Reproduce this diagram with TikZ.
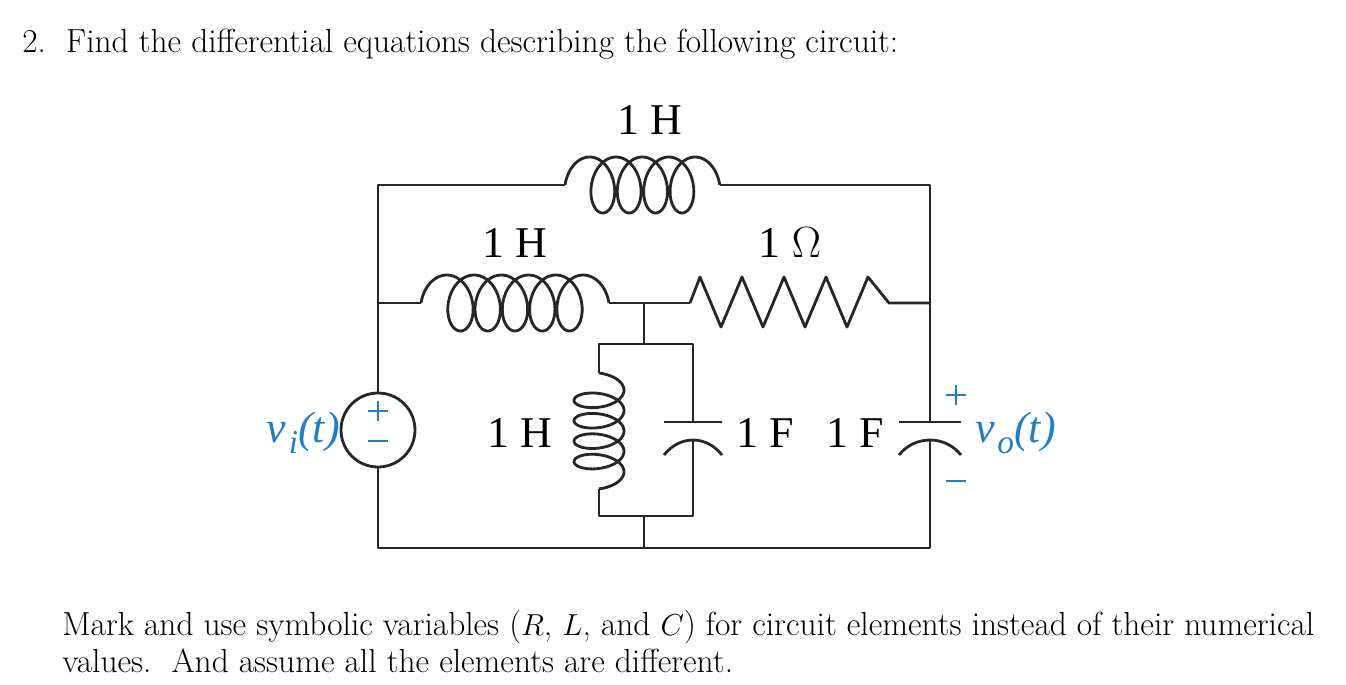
\documentclass[tikz,border=0pt]{standalone}
\usepackage{fontspec}
\newfontfamily\cfont{Liberation Serif}
\usepackage{amsmath}
\begin{document}
\definecolor{vblue}{RGB}{35,125,195}
\begin{tikzpicture}[x=0.02cm,y=-0.02cm,
  wire/.style={line width=1.6pt,black!85,line join=round},
  lab/.style={font=\cfont\fontsize{25}{28}\selectfont,inner sep=0pt},
  blab/.style={font=\cfont\itshape\fontsize{25}{28}\selectfont,text=vblue,inner sep=0pt},
  txt/.style={font=\fontsize{19}{23}\selectfont,inner sep=0pt,anchor=base west}]
\useasboundingbox (0,0) rectangle (1346,684);
% texts
\node[txt] (q) at (22,52) {2.\ \ Find the differential equations describing the following circuit:};
\node[txt] (m1) at (62,635) {Mark and use symbolic variables ($R$, $L$, and $C$) for circuit elements instead of their numerical};
\node[txt] (m2) at (62,672) {values.\ \ And assume all the elements are different.};
% coordinates
\coordinate (TL) at (378,185); \coordinate (TR) at (930,185);
\coordinate (ML) at (378,303); \coordinate (MR) at (930,303);
\coordinate (BL) at (378,548); \coordinate (BR) at (930,548);
\coordinate (J) at (644,303); \coordinate (JB) at (644,548);
% outer wires
\draw[wire] (378,393) -- (ML) -- (TL) -- (565,185);
\draw[wire] (720,185) -- (TR) -- (MR) -- (930,422);
\draw[wire] (930,440) -- (BR) -- (BL) -- (378,467);
% top inductor
\draw[wire] plot[domain=-90:1530,samples=240,variable=\t] ({565+4.2*(\t/57.2958+1.5708)+18*(1+sin(\t))},{185-28*cos(\t)});
% middle inductor
\draw[wire] (ML) -- (421,303);
\draw[wire] plot[domain=-90:1890,samples=280,variable=\t] ({421+4.34*(\t/57.2958+1.5708)+19*(1+sin(\t))},{303-28*cos(\t)});
\draw[wire] (609,303) -- (J) -- (690,303);
% resistor
\draw[wire] (690,303) -- (700,277) -- (721,327) -- (742,277) -- (763,327) -- (784,277) -- (805,327) -- (826,277) -- (847,327) -- (868,277) -- (889,303) -- (MR);
% box
\draw[wire] (J) -- (644,344);
\draw[wire] (599,373) -- (599,344) -- (693,344) -- (693,422);
\draw[wire] (693,440) -- (693,516) -- (599,516) -- (599,489);
\draw[wire] (644,516) -- (JB);
% vertical inductor
\draw[wire] plot[domain=-90:1530,samples=240,variable=\t] ({599+25*cos(\t)},{373+3.25*(\t/57.2958+1.5708)+12*(1+sin(\t))});
% capacitor 1
\draw[wire] (664,422) -- (722,422);
\draw[wire] (664,455) .. controls (680,435) and (706,435) .. (722,455);
% capacitor 2
\draw[wire] (899,422) -- (961,422);
\draw[wire] (899,455) .. controls (915,435) and (945,435) .. (961,455);
% source
\draw[wire] (378,430) circle (37);
\draw[vblue,line width=1.6pt] (368,411) -- (388,411) (378,401) -- (378,421);
\draw[vblue,line width=1.6pt] (368,441) -- (388,441);
\draw[vblue,line width=1.6pt] (946,395) -- (966,395) (956,385) -- (956,405);
\draw[vblue,line width=1.6pt] (946,481) -- (966,481);
% labels
\node[lab] (l1) at (650,120) {1 H};
\node[lab] (l2) at (515,243) {1 H};
\node[lab] (l3) at (790,243) {1 $\Omega$};
\node[lab] (l4) at (520,433) {1 H};
\node[lab] (l5) at (765,433) {1 F};
\node[lab] (l6) at (855,433) {1 F};
\node[blab,anchor=east] (vi) at (340,433) {v\kern0.06em\raisebox{-0.25em}{\fontsize{19}{20}\selectfont i}(t)};
\node[blab,anchor=west] (vo) at (975,433) {v\kern0.06em\raisebox{-0.25em}{\fontsize{19}{20}\selectfont o}(t)};
\end{tikzpicture}
\end{document}
